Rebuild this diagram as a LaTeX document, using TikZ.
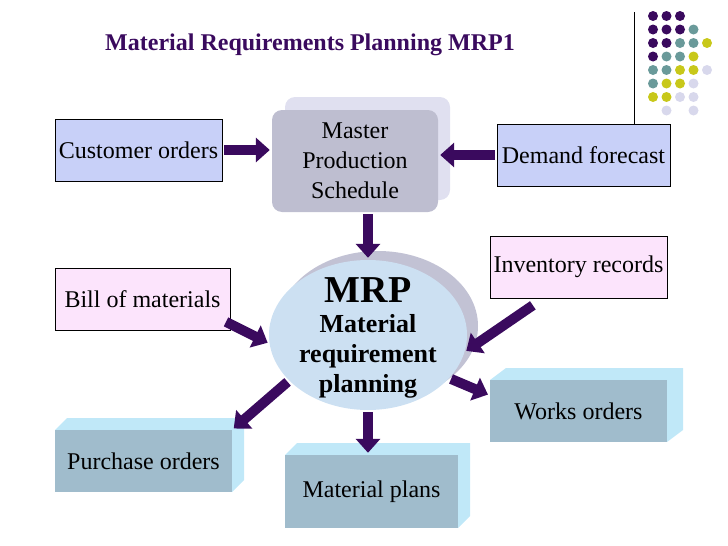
\documentclass[tikz,border=0pt]{standalone}
\usepackage{fontspec}
\setmainfont{Liberation Serif}
\usetikzlibrary{shapes.geometric,arrows.meta}
\definecolor{dpurple}{HTML}{3A0A5E}
\definecolor{teal2}{HTML}{6A9A9A}
\definecolor{yel}{HTML}{C8C81A}
\definecolor{lil}{HTML}{D8D8EC}
\definecolor{blu}{HTML}{C8D0F8}
\definecolor{pnk}{HTML}{FCE4FC}
\definecolor{front}{HTML}{A0BCCC}
\definecolor{side}{HTML}{C0E8F8}
\tikzset{
  inbox/.style={draw, thin, font=\fontsize{24}{28}\selectfont, minimum height=62, inner sep=2},
  outbox/.style={fill=front, font=\fontsize{24}{28}\selectfont, minimum width=177, minimum height=62},
  bigarrow/.style={dpurple, line width=10, -{Triangle[width=24, length=14]}, shorten >=2, shorten <=2},
  dot/.style={circle, inner sep=0, minimum size=10},
}
\begin{document}
\begin{tikzpicture}[x=1pt, y=-1pt]
        \useasboundingbox (0,0) rectangle (728,546);
        \node[dpurple, font=\fontsize{24}{28}\selectfont\bfseries] (title) at (310,45) {Material Requirements Planning MRP1};
        % dots and rule
        \draw[thin] (634,12) -- (634,130);
        \foreach \row/\cols in {0/{dpurple,dpurple,dpurple}, 1/{dpurple,dpurple,dpurple,teal2},
                2/{dpurple,dpurple,teal2,teal2,yel}, 3/{dpurple,teal2,teal2,yel}, 4/{teal2,teal2,yel,yel,lil},
                5/{teal2,yel,yel,lil}, 6/{yel,yel,lil,lil}} {
                \foreach \c [count=\i from 0] in \cols {
                        \node[dot, fill=\c] (d\row\i) at (653+13.5*\i, 16+13.5*\row) {};
                }
        }
        \node[dot, fill=lil] (d71) at (666.5,110.5) {};
        \node[dot, fill=lil] (d73) at (693.5,110.5) {};
        % master schedule
        \fill[lil!80!white, rounded corners=10] (285,97) rectangle (450,200);
        \node[fill=black!12!lil, rounded corners=10, minimum width=166, minimum height=102,
              align=center, font=\fontsize{24}{30}\selectfont] (mps) at (355,161) {Master\\Production\\Schedule};
        \node[inbox, fill=blu, minimum width=167] (cust) at (138.5,150) {Customer orders};
        \node[inbox, fill=blu, minimum width=173] (demand) at (583.5,155) {Demand forecast};
        % MRP
        \fill[black!10!lil] (378,326) ellipse (100 and 75);
        \node[ellipse, fill=side!50!lil, minimum width=198, minimum height=150, align=center,
              inner sep=0] (mrp) at (368,335) {};
        \node[align=center, font=\fontsize{26}{30}\selectfont\bfseries] (mrptext) at (368,338)
              {{\fontsize{38}{40}\selectfont MRP}\\Material\\requirement\\planning};
        \node[inbox, fill=pnk, minimum width=175] (bom) at (142.5,299) {Bill of materials};
        \node[inbox, fill=pnk, minimum width=177] (inv) at (578.5,267) {Inventory records};
        % outputs
        \fill[side] (490,380) -- (506,368) -- (683,368) -- (683,430) -- (667,442) -- (667,380) -- cycle;
        \node[outbox] (works) at (578.5,411) {Works orders};
        \fill[side] (55,430) -- (67,418) -- (244,418) -- (244,480) -- (232,492) -- (232,430) -- cycle;
        \node[outbox] (purch) at (143.5,461) {Purchase orders};
        \fill[side] (285,455) -- (297,443) -- (470,443) -- (470,516) -- (458,528) -- (458,455) -- cycle;
        \node[outbox, minimum width=173, minimum height=73] (plans) at (371.5,491.5) {Material plans};
        % arrows
        \draw[bigarrow] (cust.east) -- (mps.west |- cust.east);
        \draw[bigarrow] (demand.west) -- (mps.east |- demand.west);
        \draw[bigarrow] (mps.south -| mrp.north) -- (mrp.north);
        \draw[bigarrow] (bom.east) ++(-6,22) coordinate (b1) (b1) -- (mrp.185);
        \draw[bigarrow] (inv.south) ++(-44,6) coordinate (i1) (i1) -- (mrp.-10);
        \draw[bigarrow] (mrp.-150) -- (purch.north east);
        \draw[bigarrow] (mrp.south) -- (plans.north -| mrp.south);
        \draw[bigarrow] (mrp.-28) -- (works.170);
\end{tikzpicture}
\end{document}
